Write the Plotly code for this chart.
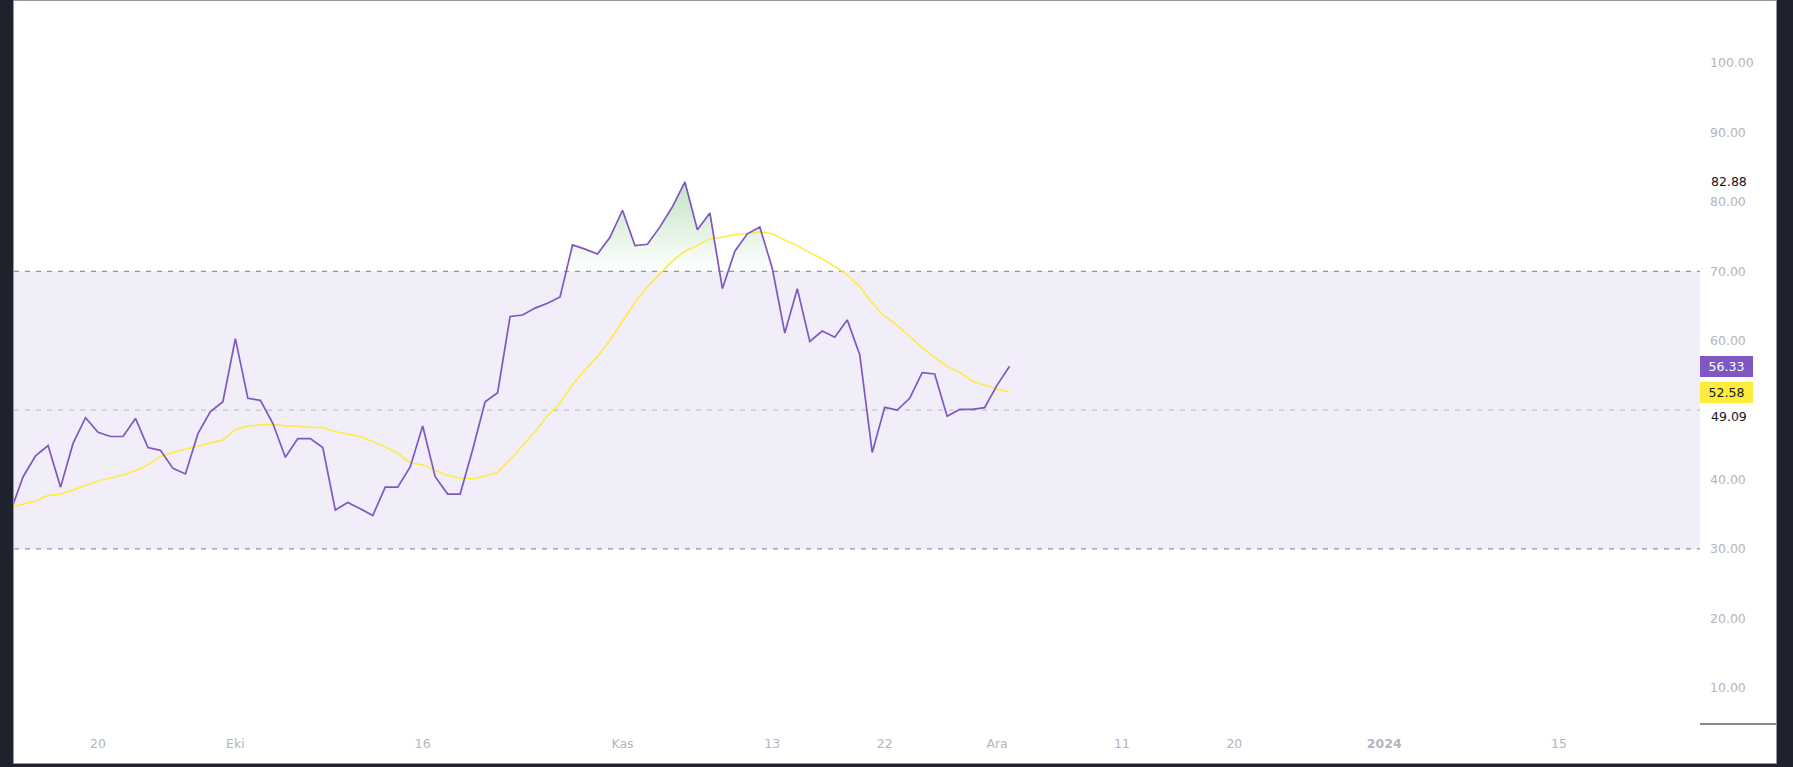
import pandas as pd
import plotly.graph_objects as go

# ---- data ----
dates = pd.date_range("2023-09-13", "2023-12-02", freq="D")

rsi = [35.4, 40.4, 43.4, 44.9, 38.9, 45.2, 48.9, 46.8, 46.2, 46.2,
       48.8, 44.6, 44.2, 41.6, 40.8, 46.6, 49.8, 51.2,
       60.3, 51.7, 51.4, 48.1, 43.2, 45.9, 45.9, 44.6, 35.6, 36.7,
       35.8, 34.8, 38.9, 38.9, 41.8, 47.7, 40.4, 37.9, 37.9, 44.3,
       51.2, 52.5, 63.5, 63.7, 64.7, 65.4, 66.3, 73.8, 73.2, 72.5, 74.9,
       78.8, 73.7, 73.9, 76.4, 79.3, 82.88, 76.0, 78.4, 67.5, 72.9,
       75.4, 76.4, 70.4, 61.1, 67.5, 59.9, 61.4, 60.5, 63.0, 58.0,
       43.9, 50.4, 50.0, 51.7, 55.4, 55.2, 49.1, 50.1, 50.1, 50.35,
       53.6, 56.33]

rsi_ma = [36.0, 36.4, 36.9, 37.7, 37.9, 38.5, 39.2, 39.8, 40.2, 40.65,
          41.3, 42.1, 43.3, 43.9, 44.35, 44.8, 45.3, 45.7,
          47.2, 47.7, 47.85, 47.95, 47.7, 47.7, 47.5, 47.5, 46.9, 46.6,
          46.2, 45.45, 44.7, 43.8, 42.4, 42.1, 41.4, 40.6, 40.2, 40.1,
          40.5, 41.0, 42.9, 44.9, 46.9, 49.2, 51.0, 53.7, 55.8, 57.7, 60.1,
          62.8, 65.5, 67.8, 69.6, 71.5, 72.9, 73.7, 74.7, 74.9, 75.3,
          75.4, 75.7, 75.4, 74.5, 73.7, 72.7, 71.8, 70.7, 69.5, 67.8,
          65.4, 63.5, 62.2, 60.6, 59.0, 57.55, 56.3, 55.45, 54.2, 53.6,
          53.0, 52.58]

upper_band = 70
middle_band = 50
lower_band = 30
band_labels = [82.88, 49.09]

y_ticks = [10, 20, 30, 40, 60, 70, 80, 90, 100]
y_ticktext = [f"{v:.2f}" for v in y_ticks]

x_tickdates = ["2023-09-20", "2023-10-01", "2023-10-16", "2023-11-01",
               "2023-11-13", "2023-11-22", "2023-12-01", "2023-12-11",
               "2023-12-20", "2024-01-01", "2024-01-15"]
x_ticktext = ["20", "Eki", "16", "Kas", "13", "22", "Ara", "11", "20",
              "<b>2024</b>", "15"]

# ---- styling ----
W, H = 1793, 767
ML, MR, MT, MB = 14, 93, 1, 43
PW = W - ML - MR
PH = H - MT - MB
FONT = "DejaVu Sans"
FS = 12.5
PURPLE = "#7E57C2"
YELLOW = "#FFEB3B"
GRID_TXT = "#B2B5BE"


def px_x(p):
    return (p - ML) / PW


def px_y(p):
    return (H - MB - p) / PH


fig = go.Figure()

# baseline for overbought gradient fill
fig.add_trace(go.Scatter(x=dates, y=[upper_band] * len(dates), mode="lines",
                         line=dict(width=0, color="rgba(0,0,0,0)"),
                         hoverinfo="skip", showlegend=False))
fig.add_trace(go.Scatter(x=dates, y=rsi, mode="lines", fill="tonexty",
                         line=dict(width=0, color="rgba(0,0,0,0)"),
                         fillgradient=dict(type="vertical",
                                           colorscale=[[0, "rgba(76,175,80,0)"],
                                                       [1, "rgba(76,175,80,0.8)"]],
                                           start=70, stop=100),
                         hoverinfo="skip", showlegend=False))
fig.add_trace(go.Scatter(x=dates, y=rsi_ma, mode="lines",
                         line=dict(color=YELLOW, width=1.5),
                         name="RSI MA", showlegend=False))
fig.add_trace(go.Scatter(x=dates, y=rsi, mode="lines",
                         line=dict(color=PURPLE, width=1.7),
                         name="RSI", showlegend=False))

shapes = [
    # white chart pane with thin border
    dict(type="rect", xref="paper", yref="paper",
         x0=px_x(13.5), x1=px_x(1776.5), y0=px_y(763.5), y1=px_y(0.5),
         fillcolor="white", line=dict(color="#9598A1", width=1), layer="below"),
    # RSI band background
    dict(type="rect", xref="paper", yref="y", x0=0, x1=1,
         y0=lower_band, y1=upper_band,
         fillcolor="rgba(126,87,194,0.1)", line=dict(width=0), layer="below"),
    dict(type="line", xref="paper", yref="y", x0=0, x1=1,
         y0=upper_band, y1=upper_band,
         line=dict(color="#787B86", width=1, dash="5px,6px"), layer="below"),
    dict(type="line", xref="paper", yref="y", x0=0, x1=1,
         y0=middle_band, y1=middle_band,
         line=dict(color="rgba(120,123,134,0.5)", width=1, dash="5px,6px"),
         layer="below"),
    dict(type="line", xref="paper", yref="y", x0=0, x1=1,
         y0=lower_band, y1=lower_band,
         line=dict(color="#787B86", width=1, dash="5px,6px"), layer="below"),
    # separator under price scale
    dict(type="line", xref="paper", yref="paper", x0=1, x1=px_x(1776),
         y0=0, y1=0, line=dict(color="#131722", width=1)),
]

annotations = []
for v in band_labels:
    annotations.append(dict(xref="paper", yref="y", x=px_x(1709), y=v,
                            xanchor="left", yanchor="middle", showarrow=False,
                            text=f"{v:.2f}",
                            font=dict(family=FONT, size=FS, color="#131722")))
for v, bg, fg in [(rsi[-1], PURPLE, "white"), (rsi_ma[-1], YELLOW, "#131722")]:
    annotations.append(dict(xref="paper", yref="y", x=1, y=v,
                            xanchor="left", yanchor="middle", showarrow=False,
                            text=f"{v:.2f}", bgcolor=bg, width=49, height=17,
                            borderpad=2, borderwidth=0, align="center",
                            font=dict(family=FONT, size=FS, color=fg)))

fig.update_layout(
    width=W, height=H,
    margin=dict(l=ML, r=MR, t=MT, b=MB, pad=0),
    paper_bgcolor="#1E222D",
    plot_bgcolor="rgba(0,0,0,0)",
    shapes=shapes,
    annotations=annotations,
    showlegend=False,
    font=dict(family=FONT, size=FS, color=GRID_TXT),
    xaxis=dict(type="date",
               range=["2023-09-13 06:30", "2024-01-26 07:00"],
               tickvals=x_tickdates, ticktext=x_ticktext,
               showgrid=False, zeroline=False, showline=False, ticks="",
               tickfont=dict(family=FONT, size=FS, color=GRID_TXT),
               ticklabelstandoff=10, fixedrange=True),
    yaxis=dict(side="right", range=[4.77, 108.95],
               tickvals=y_ticks, ticktext=y_ticktext,
               showgrid=False, zeroline=False, showline=False, ticks="",
               tickfont=dict(family=FONT, size=FS, color=GRID_TXT),
               ticklabelstandoff=9, fixedrange=True),
)

fig.write_html("out.html")
